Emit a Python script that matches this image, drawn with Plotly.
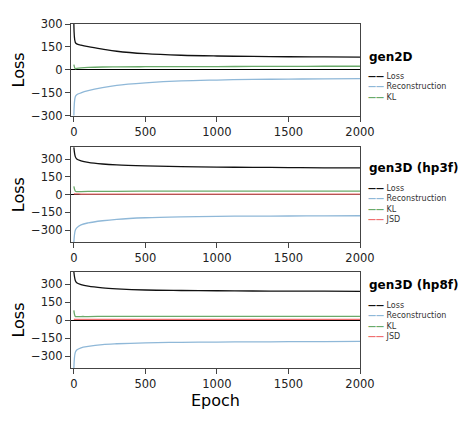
import plotly.graph_objects as go
from plotly.subplots import make_subplots

epoch = [0, 10, 20, 50, 100, 200, 300, 500, 750, 1000, 1250, 1500, 1750, 2000]

# gen2D
g2_loss = [300, 180, 170, 162, 152, 136, 122, 106, 96, 91, 88, 86, 85, 84]
g2_recon = [-300, -175, -162, -150, -136, -116, -101, -85, -72, -66, -62, -60, -58, -57]
g2_kl = [35, 8, 10, 13, 16, 19, 20, 21, 22, 22, 23, 23, 24, 24]

# gen3D (hp3f)
h3_loss = [400, 320, 300, 285, 272, 258, 250, 242, 236, 232, 230, 228, 226, 225]
h3_recon = [-400, -300, -280, -255, -238, -220, -208, -195, -187, -183, -181, -180, -179, -178]
h3_kl = [70, 30, 25, 26, 27, 28, 28, 29, 29, 30, 30, 30, 30, 30]
h3_jsd = [8, 6, 6, 5, 5, 5, 5, 5, 5, 5, 5, 5, 5, 5]

# gen3D (hp8f)
h8_loss = [400, 330, 310, 295, 282, 268, 260, 250, 246, 244, 242, 241, 240, 238]
h8_recon = [-400, -270, -250, -232, -220, -205, -198, -190, -186, -184, -182, -181, -180, -178]
h8_kl = [80, 30, 28, 29, 29, 30, 30, 30, 31, 31, 31, 31, 31, 31]
h8_jsd = [8, 6, 6, 5, 5, 5, 5, 5, 5, 5, 5, 5, 5, 5]

titles = ["gen2D", "gen3D (hp3f)", "gen3D (hp8f)"]
colors = {"Loss": "#111111", "Reconstruction": "#8fb8d8", "KL": "#6aaa6a", "JSD": "#f07070"}

panels = [
    {"Loss": g2_loss, "Reconstruction": g2_recon, "KL": g2_kl},
    {"Loss": h3_loss, "Reconstruction": h3_recon, "KL": h3_kl, "JSD": h3_jsd},
    {"Loss": h8_loss, "Reconstruction": h8_recon, "KL": h8_kl, "JSD": h8_jsd},
]

fig = make_subplots(rows=3, cols=1)
domains = [[0.733, 1.0], [0.366, 0.642], [0.0, 0.279]]
title_y = [0.905, 0.58, 0.24]
yranges = [[-300, 300], [-400, 400], [-400, 400]]

for i, series in enumerate(panels):
    for name, vals in series.items():
        fig.add_trace(go.Scatter(x=epoch, y=vals, name=name, mode="lines", showlegend=False,
                                 line=dict(color=colors[name], width=1.3, shape="spline")),
                      row=i + 1, col=1)
    ax = "" if i == 0 else str(i + 1)
    fig.layout["yaxis" + ax].update(domain=domains[i], range=yranges[i], automargin=False,
                                    tickvals=[-300, -150, 0, 150, 300],
                                    ticktext=["\u2212300", "\u2212150", "0", "150", "300"],
                                    zeroline=True, zerolinecolor="black", zerolinewidth=1.2,
                                    title=dict(text="Loss", font=dict(size=16), standoff=2))
    fig.layout["xaxis" + ax].update(range=[-20, 2000], tickvals=[0, 500, 1000, 1500, 2000],
                                    automargin=False)
    fig.add_annotation(text="<b>%s</b>" % titles[i], xref="paper", yref="paper",
                       x=1.025, y=title_y[i], xanchor="left", yanchor="middle",
                       showarrow=False, font=dict(size=12, color="black"))
    key = "<br>".join("<span style='color:%s'><b>\u2014\u2014</b></span> %s" % (colors[n], n)
                      for n in series)
    fig.add_annotation(text=key, xref="paper", yref="paper", align="left",
                       x=1.02, y=title_y[i] - 0.04, xanchor="left", yanchor="top",
                       showarrow=False, font=dict(size=8, color="#333"))

fig.update_xaxes(showgrid=False, showline=True, mirror=True, linecolor="#444", ticks="outside",
                 tickfont=dict(size=11.5, color="#222"))
fig.update_yaxes(showgrid=False, showline=True, mirror=True, linecolor="#444", ticks="outside",
                 tickfont=dict(size=11.5, color="#222"))
fig.update_xaxes(title=dict(text="Epoch", font=dict(size=16), standoff=2), row=3, col=1)

fig.update_layout(width=474, height=426, plot_bgcolor="white", paper_bgcolor="white",
                  font=dict(family="DejaVu Sans", color="black"),
                  margin=dict(l=63, r=122, t=16, b=66))
fig.write_html("out.html")
